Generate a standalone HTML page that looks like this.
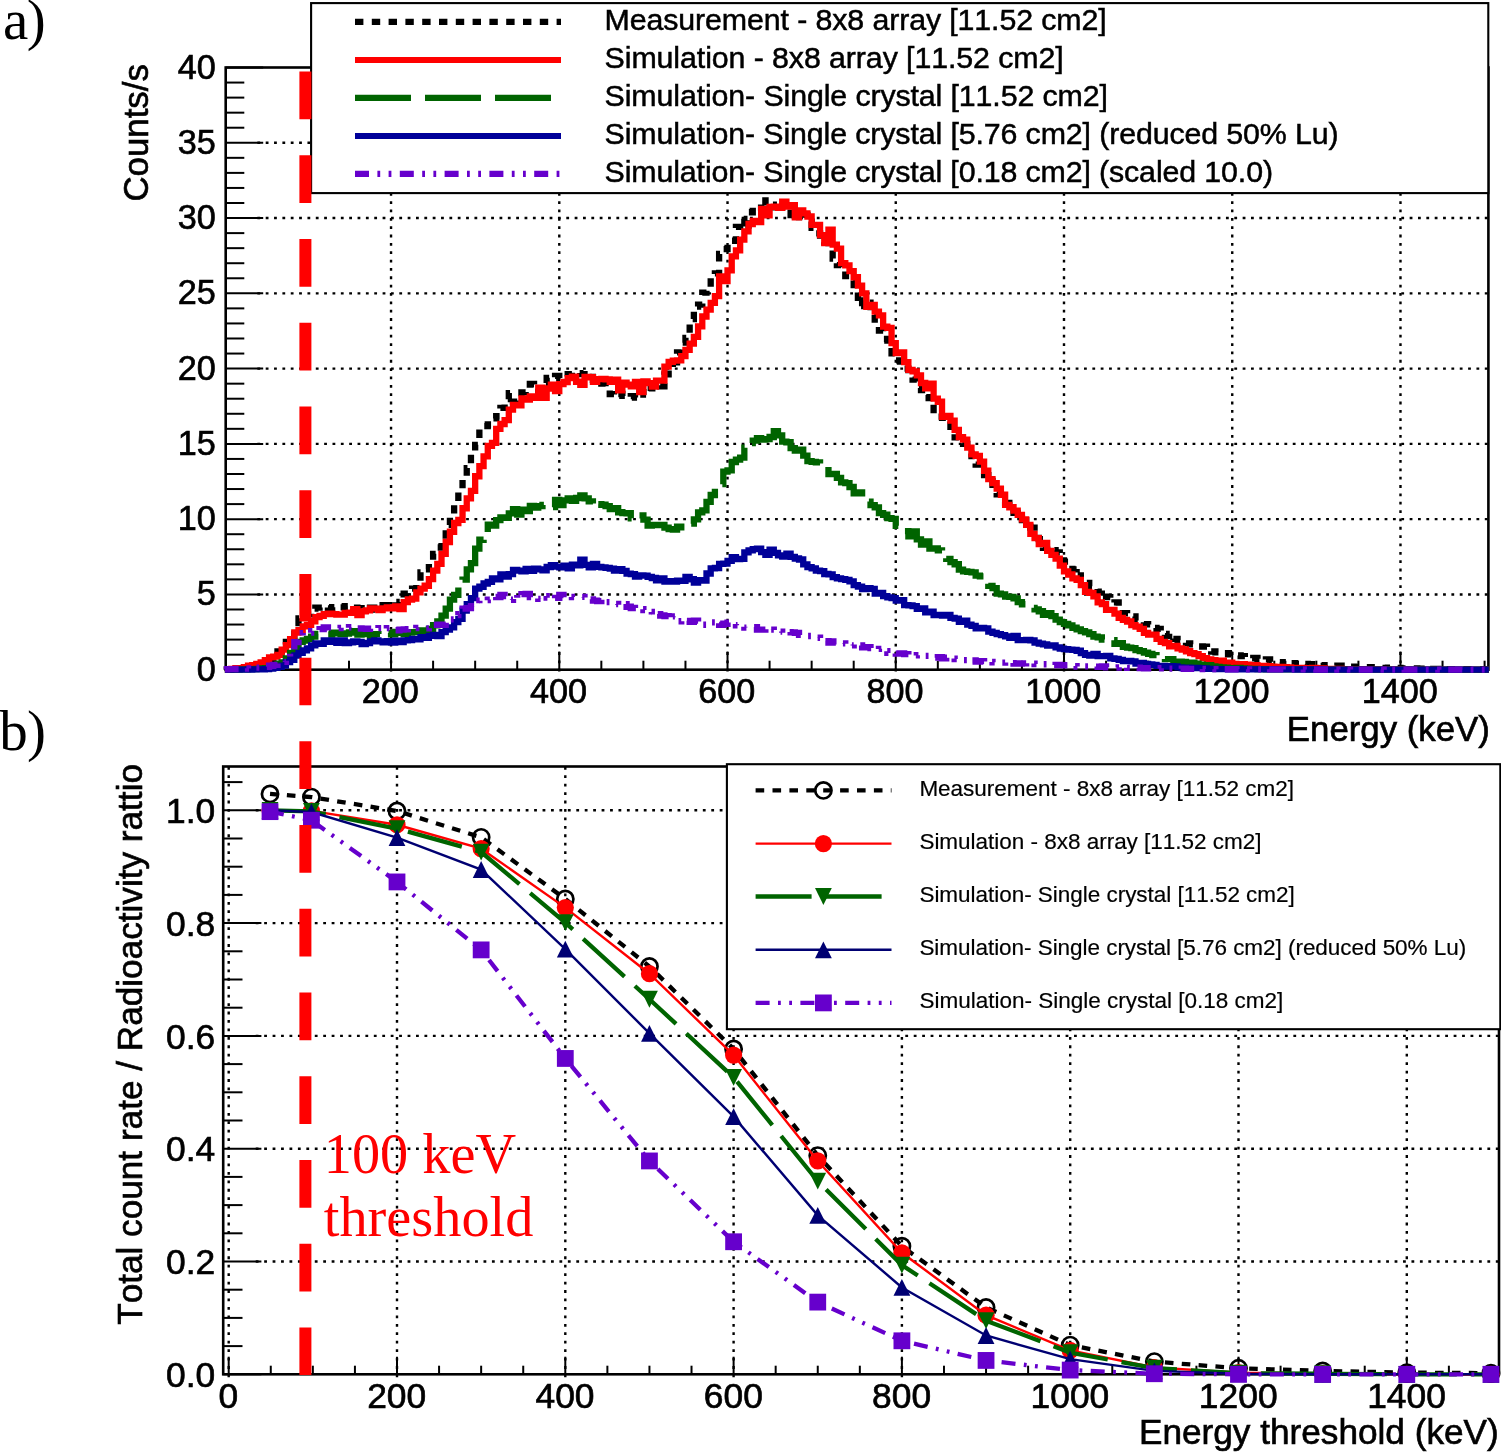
<!DOCTYPE html>
<html lang="en"><head><meta charset="utf-8"><title>Energy spectra and count rate vs threshold</title>
<style>html,body{margin:0;padding:0;background:#fff}body{width:1501px;height:1454px;overflow:hidden}svg{display:block}text{font-family:'Liberation Sans', sans-serif;fill:#000;stroke:#000;stroke-width:0.65px;font-kerning:none}.serif{font-family:'Liberation Serif', serif}</style>
</head><body>
<svg width="1501" height="1454" viewBox="0 0 1501 1454">
<rect x="0" y="0" width="1501" height="1454" fill="#fff"/>
<g id="plot-a">
<g stroke="#000" stroke-width="2.4" stroke-dasharray="2.8 5.55" fill="none">
<path d="M391.04 671.6V67.5"/>
<path d="M559.28 671.6V67.5"/>
<path d="M727.52 671.6V67.5"/>
<path d="M895.76 671.6V67.5"/>
<path d="M1064 671.6V67.5"/>
<path d="M1232.24 671.6V67.5"/>
<path d="M1400.48 671.6V67.5"/>
<path d="M257.35 594.43H1488.4"/>
<path d="M257.35 519.15H1488.4"/>
<path d="M257.35 443.88H1488.4"/>
<path d="M257.35 368.6H1488.4"/>
<path d="M257.35 293.33H1488.4"/>
<path d="M257.35 218.05H1488.4"/>
<path d="M257.35 142.78H1488.4"/>
</g>
<g stroke="#000" stroke-width="2" fill="none">
<path d="M225.7 669.7h37.5"/>
<path d="M225.7 654.65h18.6"/>
<path d="M225.7 639.59h18.6"/>
<path d="M225.7 624.54h18.6"/>
<path d="M225.7 609.48h18.6"/>
<path d="M225.7 594.43h37.5"/>
<path d="M225.7 579.37h18.6"/>
<path d="M225.7 564.32h18.6"/>
<path d="M225.7 549.26h18.6"/>
<path d="M225.7 534.21h18.6"/>
<path d="M225.7 519.15h37.5"/>
<path d="M225.7 504.1h18.6"/>
<path d="M225.7 489.04h18.6"/>
<path d="M225.7 473.99h18.6"/>
<path d="M225.7 458.93h18.6"/>
<path d="M225.7 443.88h37.5"/>
<path d="M225.7 428.82h18.6"/>
<path d="M225.7 413.77h18.6"/>
<path d="M225.7 398.71h18.6"/>
<path d="M225.7 383.66h18.6"/>
<path d="M225.7 368.6h37.5"/>
<path d="M225.7 353.55h18.6"/>
<path d="M225.7 338.49h18.6"/>
<path d="M225.7 323.44h18.6"/>
<path d="M225.7 308.38h18.6"/>
<path d="M225.7 293.33h37.5"/>
<path d="M225.7 278.27h18.6"/>
<path d="M225.7 263.22h18.6"/>
<path d="M225.7 248.16h18.6"/>
<path d="M225.7 233.11h18.6"/>
<path d="M225.7 218.05h37.5"/>
<path d="M225.7 203h18.6"/>
<path d="M225.7 187.94h18.6"/>
<path d="M225.7 172.89h18.6"/>
<path d="M225.7 157.83h18.6"/>
<path d="M225.7 142.78h37.5"/>
<path d="M225.7 127.72h18.6"/>
<path d="M225.7 112.67h18.6"/>
<path d="M225.7 97.61h18.6"/>
<path d="M225.7 82.56h18.6"/>
<path d="M225.7 67.5h37.5"/>
<path d="M264.86 669.7v-9"/>
<path d="M306.92 669.7v-9"/>
<path d="M348.98 669.7v-9"/>
<path d="M391.04 669.7v-18.2"/>
<path d="M433.1 669.7v-9"/>
<path d="M475.16 669.7v-9"/>
<path d="M517.22 669.7v-9"/>
<path d="M559.28 669.7v-18.2"/>
<path d="M601.34 669.7v-9"/>
<path d="M643.4 669.7v-9"/>
<path d="M685.46 669.7v-9"/>
<path d="M727.52 669.7v-18.2"/>
<path d="M769.58 669.7v-9"/>
<path d="M811.64 669.7v-9"/>
<path d="M853.7 669.7v-9"/>
<path d="M895.76 669.7v-18.2"/>
<path d="M937.82 669.7v-9"/>
<path d="M979.88 669.7v-9"/>
<path d="M1021.94 669.7v-9"/>
<path d="M1064 669.7v-18.2"/>
<path d="M1106.06 669.7v-9"/>
<path d="M1148.12 669.7v-9"/>
<path d="M1190.18 669.7v-9"/>
<path d="M1232.24 669.7v-18.2"/>
<path d="M1274.3 669.7v-9"/>
<path d="M1316.36 669.7v-9"/>
<path d="M1358.42 669.7v-9"/>
<path d="M1400.48 669.7v-18.2"/>
<path d="M1442.54 669.7v-9"/>
<path d="M1484.6 669.7v-9"/>
</g>
<rect x="225.7" y="67.5" width="1262.7" height="602.2" fill="none" stroke="#000" stroke-width="2.6"/>
<g fill="none" stroke-width="6.3" stroke-linejoin="miter">
<path stroke="#000000" stroke-dasharray="8.4 8.4" d="M224.9 669.68H227.01V669.52H231.21V669.22H235.42V668.81H239.62V668.11H243.83V668.37H248.04V666.54H252.24V666.41H256.45V664.68H260.65V663.3H264.86V660.38H269.07V660.23H273.27V656.23H277.48V651.43H281.68V644.4H285.89V641.93H290.1V636.73H294.3V626.62H298.51V618.37H302.71V614.43H306.92V614.33H311.13V608.7H315.33V607.59H319.54V607.54H323.74V606.39H327.95V608.39H332.16V607.25H336.36V608.37H340.57V607.34H344.77V606.16H348.98V608.1H353.19V607.73H357.39V608.27H361.6V608.64H365.8V608.57H370.01V607.77H374.22V609.62H378.42V607.61H382.63V605.09H386.83V605.66H391.04V605.93H395.25V605.39H399.45V601.93H403.66V593.74H407.86V592.19H412.07V588.66H416.28V581.88H420.48V572.37H424.69V569.3H428.89V560.89H433.1V553.87H437.31V547.5H441.51V540.18H445.72V524.89H449.92V514.03H454.13V502.5H458.34V490.07H462.54V477.69H466.75V468.08H470.95V454.07H475.16V444.86H479.37V429.02H483.57V426.08H487.78V424.48H491.98V418.45H496.19V416.23H500.4V407.79H504.6V399.17H508.81V393.08H513.01V401.55H517.22V398.44H521.43V392.28H525.63V387.87H529.84V384.02H534.04V384.44H538.25V390.36H542.46V382.92H546.66V377.81H550.87V378.72H555.07V375.94H559.28V377.94H563.49V376.44H567.69V374.15H571.9V372.6H576.1V373.09H580.31V374.16H584.52V378.38H588.72V376.88H592.93V379.93H597.13V379.95H601.34V383.57H605.55V390.28H609.75V394.18H613.96V396.31H618.16V393.99H622.37V395.88H626.58V397.55H630.78V396.08H634.99V397.5H639.19V392.22H643.4V394.71H647.61V387.84H651.81V388.4H656.02V384.95H660.22V386.26H664.43V374.34H668.64V363.85H672.84V362.25H677.05V352.28H681.25V342.64H685.46V337.78H689.67V319.04H693.87V306.56H698.08V304.68H702.28V292.62H706.49V290.82H710.7V276.7H714.9V273.31H719.11V253.97H723.31V249.2H727.52V243.99H731.73V240.75H735.93V226.82H740.14V218.83H744.34V229.73H748.55V212.23H752.76V206.01H756.96V207.55H761.17V211.23H765.37V200.49H769.58V204.65H773.79V207.36H777.99V211.28H782.2V205.76H786.4V207.16H790.61V215.19H794.82V212.14H799.02V220.73H803.23V214.92H807.43V221.62H811.64V227.73H815.85V233.4H820.05V235.64H824.26V242.4H828.46V250.12H832.67V258.52H836.88V265.12H841.08V268.87H845.29V276.1H849.49V280.41H853.7V290.93H857.91V306.17H862.11V300.35H866.32V302.6H870.52V315.03H874.73V323.27H878.94V330.7H883.14V338.89H887.35V346.28H891.55V356.73H895.76V360.36H899.97V367.37H904.17V368.61H908.38V376.25H912.58V379.65H916.79V387.88H921V390.02H925.2V398.08H929.41V397.09H933.61V415.15H937.82V416.63H942.03V417.76H946.23V418.89H950.44V432.93H954.64V437.37H958.85V443.29H963.06V443.84H967.26V453.62H971.47V456.16H975.67V464.55H979.88V473.15H984.09V475.08H988.29V480.9H992.5V484.96H996.7V494.29H1000.91V500.79H1005.12V502.79H1009.32V508.38H1013.53V512.95H1017.73V518.4H1021.94V520.1H1026.15V526.59H1030.35V527.64H1034.56V533.88H1038.76V539.06H1042.97V547.88H1047.18V546.52H1051.38V550.14H1055.59V552.48H1059.79V555.23H1064V561.62H1068.21V562.86H1072.41V569.45H1076.62V568.5H1080.82V578.57H1085.03V582.97H1089.24V586.17H1093.44V588.11H1097.65V591.77H1101.85V589.84H1106.06V597.12H1110.27V602.42H1114.47V602.32H1118.68V608.77H1122.88V613.27H1127.09V613.33H1131.3V616.43H1135.5V620.38H1139.71V620.2H1143.91V624.12H1148.12V624.39H1152.33V627.99H1156.53V628.83H1160.74V632.63H1164.94V636.11H1169.15V633.82H1173.36V638.89H1177.56V640.18H1181.77V642.29H1185.97V643.29H1190.18V644.27H1194.39V645.64H1198.59V646.49H1202.8V646.69H1207V649.52H1211.21V651.49H1215.42V652.35H1219.62V652.74H1223.83V654.29H1228.03V653.07H1232.24V654.85H1236.45V655.5H1240.65V656.09H1244.86V657.88H1249.06V658.28H1253.27V658.01H1257.48V658.75H1261.68V660.06H1265.89V659.35H1270.09V661.75H1274.3V661.73H1278.51V662.14H1282.71V663.92H1286.92V661.89H1291.12V663.07H1295.33V664.09H1299.54V662.95H1303.74V663.93H1307.95V664.27H1312.15V664.98H1316.36V664.91H1320.57V665.82H1324.77V665.09H1328.98V665.78H1333.18V665.8H1337.39V665.62H1341.6V666.17H1345.8V666.39H1350.01V666.59H1354.21V667.11H1358.42V666.78H1362.63V666.74H1366.83V667.14H1371.04V667.26H1375.24V667.9H1379.45V668.02H1383.66V668.28H1387.86V667.72H1392.07V668.2H1396.27V667.91H1400.48V668.51H1404.69V668.51H1408.89V668.48H1413.1V668.4H1417.3V668.65H1421.51V668.7H1425.72V668.81H1429.92V668.87H1434.13V668.92H1438.33V668.97H1442.54V669.01H1446.75V669.05H1450.95V669.09H1455.16V669.13H1459.36V669.16H1463.57V669.19H1467.78V669.22H1471.98V669.24H1476.19V669.26H1480.39V669.27H1484.6V669.28H1488.81"/>
<path stroke="#ff0000" d="M224.9 669.65H227.01V669.39H231.21V668.98H235.42V668.15H239.62V668.3H243.83V667.27H248.04V665.77H252.24V665.18H256.45V663.81H260.65V662.39H264.86V660.17H269.07V657.44H273.27V656.69H277.48V654.95H281.68V649.72H285.89V645.07H290.1V639.21H294.3V632.5H298.51V630.22H302.71V626.37H306.92V624.87H311.13V621.25H315.33V617.21H319.54V615.92H323.74V614.2H327.95V613.74H332.16V614.05H336.36V614.57H340.57V614.66H344.77V612.79H348.98V612.76H353.19V609.24H357.39V615.15H361.6V611.34H365.8V610.35H370.01V608.28H374.22V608.72H378.42V609.98H382.63V608.44H386.83V607.4H391.04V608.25H395.25V606.31H399.45V609.2H403.66V602.17H407.86V599.51H412.07V598.57H416.28V592.36H420.48V588.7H424.69V585.75H428.89V579.16H433.1V570.53H437.31V563.79H441.51V553.82H445.72V541.99H449.92V531.73H454.13V522.98H458.34V519.83H462.54V508.24H466.75V498.36H470.95V490.86H475.16V476.27H479.37V466.14H483.57V456.35H487.78V445.78H491.98V442.96H496.19V428.91H500.4V424.02H504.6V420.19H508.81V409.67H513.01V404.94H517.22V405.4H521.43V398.31H525.63V399.67H529.84V396.51H534.04V397.77H538.25V387.62H542.46V397.79H546.66V388.48H550.87V384.54H555.07V391.07H559.28V384.1H563.49V382.02H567.69V378.09H571.9V376.66H576.1V381.75H580.31V384.89H584.52V376.88H588.72V377.23H592.93V381.84H597.13V379.08H601.34V378.99H605.55V379.29H609.75V381.75H613.96V379.75H618.16V390.29H622.37V382.69H626.58V384.6H630.78V386.23H634.99V381.92H639.19V391.99H643.4V381.32H647.61V383.07H651.81V386.61H656.02V380.6H660.22V380.72H664.43V366.66H668.64V361.86H672.84V360.64H677.05V360.4H681.25V356.05H685.46V349.8H689.67V343.6H693.87V336.86H698.08V326.47H702.28V316.48H706.49V309.53H710.7V302.84H714.9V296.22H719.11V276.28H723.31V281.12H727.52V270.29H731.73V256.32H735.93V250.45H740.14V239.63H744.34V231.35H748.55V223.98H752.76V220.78H756.96V222.04H761.17V208.93H765.37V215.46H769.58V206.95H773.79V206.68H777.99V207.75H782.2V201.69H786.4V206.71H790.61V205.24H794.82V217.35H799.02V210.49H803.23V213.34H807.43V216.52H811.64V224.86H815.85V224.82H820.05V235.09H824.26V243.09H828.46V229.69H832.67V244.59H836.88V248.59H841.08V263.2H845.29V265.37H849.49V271.12H853.7V277.27H857.91V285.59H862.11V293.42H866.32V306.91H870.52V304.84H874.73V311.65H878.94V315.42H883.14V326.53H887.35V327.89H891.55V343.15H895.76V353.01H899.97V352.31H904.17V362.21H908.38V369.96H912.58V371.35H916.79V375.4H921V382.99H925.2V388.24H929.41V383.59H933.61V398.54H937.82V401.74H942.03V416.91H946.23V415.9H950.44V420.7H954.64V429.81H958.85V437.13H963.06V439.71H967.26V447.57H971.47V454.31H975.67V455.96H979.88V461.72H984.09V470.74H988.29V479.1H992.5V483.19H996.7V488.61H1000.91V494.77H1005.12V504.78H1009.32V507.27H1013.53V510.62H1017.73V514.96H1021.94V519.28H1026.15V524.85H1030.35V533.88H1034.56V538.06H1038.76V544.04H1042.97V542.99H1047.18V550.89H1051.38V554.88H1055.59V558.61H1059.79V565.58H1064V571.42H1068.21V574.52H1072.41V578.38H1076.62V579.91H1080.82V585.04H1085.03V591.97H1089.24V592.93H1093.44V596.35H1097.65V602.34H1101.85V604.22H1106.06V609.79H1110.27V609.87H1114.47V613.72H1118.68V617.93H1122.88V619.9H1127.09V621.48H1131.3V625.09H1135.5V626.7H1139.71V628.96H1143.91V632.93H1148.12V634.71H1152.33V634.54H1156.53V638.82H1160.74V641.9H1164.94V643.12H1169.15V646.28H1173.36V646.01H1177.56V648.4H1181.77V649.52H1185.97V651.27H1190.18V653.15H1194.39V654.21H1198.59V656.18H1202.8V658.07H1207V659.5H1211.21V660.19H1215.42V662.09H1219.62V660.59H1223.83V662.96H1228.03V662.74H1232.24V663.81H1236.45V664.58H1240.65V664.2H1244.86V664.71H1249.06V665.04H1253.27V665.12H1257.48V665.86H1261.68V665.81H1265.89V666.06H1270.09V666.61H1274.3V666.86H1278.51V666.87H1282.71V667.24H1286.92V667.42H1291.12V668.25H1295.33V667.81H1299.54V667.88H1303.74V668.13H1307.95V668.16H1312.15V667.98H1316.36V668.47H1320.57V668.48H1324.77V668.86H1328.98V668.82H1333.18V668.91H1337.39V669H1341.6V669.07H1345.8V669.14H1350.01V669.19H1354.21V669.23H1358.42V669.26H1362.63V669.29H1366.83V669.32H1371.04V669.34H1375.24V669.37H1379.45V669.39H1383.66V669.42H1387.86V669.44H1392.07V669.46H1396.27V669.48H1400.48V669.5H1404.69V669.52H1408.89V669.54H1413.1V669.56H1417.3V669.57H1421.51V669.59H1425.72V669.6H1429.92V669.62H1434.13V669.63H1438.33V669.64H1442.54V669.65H1446.75V669.66H1450.95V669.67H1455.16V669.68H1459.36V669.68H1463.57V669.69H1467.78V669.69H1471.98V669.7H1476.19V669.7H1480.39V669.7H1484.6V669.7H1488.81"/>
<path stroke="#006400" stroke-dasharray="129.25 12 65.32 12 126.07 12 61.18 12 103.7 12 75.15 12 49.33 12 64.95 12 58.62 12 58.82 12 116.65 12 65.87 12 53.67 12 73.65 12 55.39 12 57.78 12 105.57 12 58.75 12 387.21 0" d="M224.9 669.7H227.01V669.67H231.21V669.62H235.42V669.55H239.62V669.45H243.83V669.33H248.04V669.19H252.24V669.03H256.45V668.83H260.65V668.51H264.86V668.09H269.07V666.64H273.27V665.48H277.48V663.75H281.68V662.43H285.89V658.29H290.1V652.86H294.3V648.7H298.51V641.81H302.71V640.51H306.92V638.95H311.13V636.72H315.33V633.88H319.54V634.47H323.74V635.25H327.95V634.5H332.16V632.77H336.36V633.45H340.57V634.08H344.77V633.51H348.98V632.48H353.19V631.18H357.39V634.58H361.6V633.92H365.8V634.07H370.01V635.73H374.22V634.08H378.42V634.11H382.63V631.75H386.83V632.98H391.04V634.46H395.25V631.9H399.45V632.79H403.66V634.05H407.86V632.56H412.07V632.19H416.28V632.02H420.48V630.46H424.69V632.24H428.89V628.95H433.1V625.27H437.31V621.28H441.51V615.71H445.72V608.64H449.92V599.65H454.13V594.91H458.34V583.19H462.54V579.57H466.75V569.39H470.95V563.15H475.16V548.59H479.37V539.75H483.57V534.98H487.78V524.58H491.98V525.48H496.19V520.2H500.4V517.34H504.6V517.91H508.81V513.31H513.01V509.03H517.22V514.7H521.43V509.73H525.63V511.2H529.84V505.93H534.04V507.64H538.25V506.03H542.46V504.9H546.66V504.59H550.87V507.16H555.07V499.84H559.28V505.1H563.49V500.39H567.69V498.47H571.9V500.86H576.1V497.98H580.31V495.4H584.52V498.47H588.72V501.34H592.93V507.18H597.13V504.2H601.34V504.77H605.55V506.16H609.75V509.02H613.96V508.1H618.16V512.27H622.37V513.19H626.58V513.27H630.78V518.37H634.99V518.91H639.19V515.3H643.4V519.59H647.61V525.72H651.81V524.81H656.02V525.03H660.22V524.84H664.43V527.7H668.64V529.14H672.84V529.55H677.05V526.69H681.25V527.38H685.46V528.14H689.67V523.69H693.87V519.4H698.08V512.37H702.28V510.3H706.49V501.97H710.7V495H714.9V488.72H719.11V484.2H723.31V471.68H727.52V470.44H731.73V461.99H735.93V459.72H740.14V457.53H744.34V447.67H748.55V442.98H752.76V440.66H756.96V438.25H761.17V439.64H765.37V439.05H769.58V436.99H773.79V431.26H777.99V435.29H782.2V441.63H786.4V442.25H790.61V448.13H794.82V450.6H799.02V449.64H803.23V455.65H807.43V461.11H811.64V461.84H815.85V462.31H820.05V465.44H824.26V466.04H828.46V474.22H832.67V473.91H836.88V477.8H841.08V482.28H845.29V483.04H849.49V487.02H853.7V493.43H857.91V492.33H862.11V501.06H866.32V501.59H870.52V505.07H874.73V507.38H878.94V513.11H883.14V514.75H887.35V518.12H891.55V518.85H895.76V525.87H899.97V527.3H904.17V531.21H908.38V536.41H912.58V531.28H916.79V539.45H921V544.7H925.2V541.39H929.41V548.64H933.61V548.44H937.82V550.36H942.03V556.23H946.23V558.91H950.44V562.14H954.64V564.27H958.85V569.57H963.06V571.37H967.26V571.9H971.47V572.33H975.67V575.58H979.88V576.46H984.09V581.03H988.29V585.86H992.5V588.06H996.7V593.69H1000.91V594.42H1005.12V596.71H1009.32V596.87H1013.53V598.36H1017.73V602.15H1021.94V604.26H1026.15V607.7H1030.35V607.83H1034.56V609.42H1038.76V611.24H1042.97V614.86H1047.18V613.23H1051.38V616.17H1055.59V619.67H1059.79V622.1H1064V623.81H1068.21V625.37H1072.41V627.77H1076.62V629.4H1080.82V631.14H1085.03V632.3H1089.24V634.06H1093.44V636.69H1097.65V637.47H1101.85V639.5H1106.06V641.04H1110.27V640.19H1114.47V643.89H1118.68V643.27H1122.88V646.77H1127.09V647.64H1131.3V648.22H1135.5V650.21H1139.71V651.04H1143.91V652.63H1148.12V653.95H1152.33V655.03H1156.53V656.77H1160.74V656.8H1164.94V659.18H1169.15V659.2H1173.36V662.29H1177.56V661.54H1181.77V661.84H1185.97V662.8H1190.18V662.75H1194.39V663.63H1198.59V664.73H1202.8V665.19H1207V665.07H1211.21V666.48H1215.42V666.88H1219.62V667.46H1223.83V667.64H1228.03V668.26H1232.24V668.26H1236.45V667.93H1240.65V668.37H1244.86V668.59H1249.06V668.83H1253.27V668.95H1257.48V669.06H1261.68V669.16H1265.89V669.24H1270.09V669.3H1274.3V669.36H1278.51V669.39H1282.71V669.41H1286.92V669.42H1291.12V669.43H1295.33V669.45H1299.54V669.46H1303.74V669.47H1307.95V669.48H1312.15V669.5H1316.36V669.51H1320.57V669.52H1324.77V669.53H1328.98V669.54H1333.18V669.55H1337.39V669.56H1341.6V669.57H1345.8V669.58H1350.01V669.58H1354.21V669.59H1358.42V669.6H1362.63V669.61H1366.83V669.61H1371.04V669.62H1375.24V669.63H1379.45V669.63H1383.66V669.64H1387.86V669.64H1392.07V669.65H1396.27V669.65H1400.48V669.66H1404.69V669.66H1408.89V669.67H1413.1V669.67H1417.3V669.68H1421.51V669.68H1425.72V669.68H1429.92V669.68H1434.13V669.69H1438.33V669.69H1442.54V669.69H1446.75V669.69H1450.95V669.69H1455.16V669.7H1459.36V669.7H1463.57V669.7H1467.78V669.7H1471.98V669.7H1476.19V669.7H1480.39V669.7H1484.6V669.7H1488.81"/>
<path stroke="#000099" d="M224.9 669.7H227.01V669.69H231.21V669.68H235.42V669.65H239.62V669.62H243.83V669.57H248.04V669.52H252.24V669.46H256.45V669.38H260.65V669.3H264.86V669.15H269.07V668.71H273.27V667.83H277.48V666.85H281.68V665.6H285.89V662.22H290.1V659.88H294.3V655.48H298.51V652.91H302.71V650.33H306.92V648.43H311.13V645.33H315.33V643.35H319.54V643.84H323.74V640.35H327.95V641.75H332.16V640.38H336.36V642.88H340.57V640.34H344.77V643.1H348.98V642.45H353.19V641.35H357.39V641.8H361.6V644.06H365.8V643.02H370.01V641.38H374.22V640.35H378.42V641.46H382.63V642.44H386.83V641.18H391.04V642.62H395.25V640.7H399.45V642.07H403.66V640.44H407.86V640.15H412.07V638.78H416.28V639.31H420.48V637.22H424.69V637.86H428.89V635.95H433.1V634.91H437.31V636.22H441.51V632.21H445.72V629.54H449.92V627.35H454.13V622.05H458.34V618.96H462.54V610.64H466.75V604.13H470.95V598.19H475.16V588.67H479.37V586.74H483.57V583.49H487.78V581.91H491.98V578.41H496.19V579.34H500.4V574.45H504.6V576.56H508.81V574.11H513.01V570H517.22V570.57H521.43V571.47H525.63V568.91H529.84V570.83H534.04V568.76H538.25V569.43H542.46V570.24H546.66V566.98H550.87V565.17H555.07V566.6H559.28V567.27H563.49V565.63H567.69V568.35H571.9V564.68H576.1V565.24H580.31V559.69H584.52V564.81H588.72V567.33H592.93V563.98H597.13V566.84H601.34V567.36H605.55V567.93H609.75V568.72H613.96V570.6H618.16V569.17H622.37V570.84H626.58V573.59H630.78V574.09H634.99V576.49H639.19V575.47H643.4V575.7H647.61V576.85H651.81V578.02H656.02V580.3H660.22V578.31H664.43V581.65H668.64V581.23H672.84V581.64H677.05V580.68H681.25V580.89H685.46V576.84H689.67V579.27H693.87V582.56H698.08V580.21H702.28V580.66H706.49V573.48H710.7V568.43H714.9V567.99H719.11V563.88H723.31V563.6H727.52V560.94H731.73V557.03H735.93V559.21H740.14V558.78H744.34V552.39H748.55V550.37H752.76V549.18H756.96V548.61H761.17V552.09H765.37V554.86H769.58V549.54H773.79V552.92H777.99V555.4H782.2V556.53H786.4V553.55H790.61V556.84H794.82V558.48H799.02V559.52H803.23V564.33H807.43V567.04H811.64V568.4H815.85V570.69H820.05V571.12H824.26V574.02H828.46V574.3H832.67V577.13H836.88V578.44H841.08V579.18H845.29V579.83H849.49V581.31H853.7V585.22H857.91V586.55H862.11V589.12H866.32V588.18H870.52V588.83H874.73V593.57H878.94V592.95H883.14V596.06H887.35V597.28H891.55V598.21H895.76V600.55H899.97V600.16H904.17V605.07H908.38V605.4H912.58V606.06H916.79V608.8H921V608.32H925.2V612.3H929.41V611.65H933.61V615.08H937.82V614.87H942.03V615.56H946.23V614.96H950.44V617.88H954.64V618.66H958.85V621.87H963.06V620.68H967.26V624.69H971.47V625.91H975.67V628.33H979.88V627.94H984.09V628.43H988.29V631.7H992.5V632.78H996.7V634.13H1000.91V635.08H1005.12V636.28H1009.32V637.89H1013.53V636H1017.73V640.16H1021.94V640.06H1026.15V639.88H1030.35V640.35H1034.56V642.57H1038.76V643.68H1042.97V644.34H1047.18V645.49H1051.38V645.35H1055.59V647.31H1059.79V648.56H1064V649.04H1068.21V649.62H1072.41V649.87H1076.62V650.73H1080.82V653.22H1085.03V654.84H1089.24V655.49H1093.44V653.79H1097.65V656.07H1101.85V656.14H1106.06V655.94H1110.27V658.33H1114.47V658.89H1118.68V659.97H1122.88V661.07H1127.09V660.85H1131.3V661.43H1135.5V663.48H1139.71V662.8H1143.91V663.93H1148.12V664.3H1152.33V664.82H1156.53V665.86H1160.74V665.95H1164.94V666.59H1169.15V666.07H1173.36V666.39H1177.56V667.34H1181.77V667.98H1185.97V667.7H1190.18V668.22H1194.39V667.99H1198.59V668.13H1202.8V668.36H1207V668.8H1211.21V668.93H1215.42V669.03H1219.62V669.12H1223.83V669.19H1228.03V669.24H1232.24V669.26H1236.45V669.27H1240.65V669.29H1244.86V669.31H1249.06V669.32H1253.27V669.34H1257.48V669.36H1261.68V669.37H1265.89V669.39H1270.09V669.4H1274.3V669.41H1278.51V669.43H1282.71V669.44H1286.92V669.45H1291.12V669.46H1295.33V669.48H1299.54V669.49H1303.74V669.5H1307.95V669.51H1312.15V669.52H1316.36V669.53H1320.57V669.54H1324.77V669.55H1328.98V669.56H1333.18V669.57H1337.39V669.57H1341.6V669.58H1345.8V669.59H1350.01V669.6H1354.21V669.61H1358.42V669.61H1362.63V669.62H1366.83V669.62H1371.04V669.63H1375.24V669.64H1379.45V669.64H1383.66V669.65H1387.86V669.65H1392.07V669.66H1396.27V669.66H1400.48V669.66H1404.69V669.67H1408.89V669.67H1413.1V669.68H1417.3V669.68H1421.51V669.68H1425.72V669.68H1429.92V669.69H1434.13V669.69H1438.33V669.69H1442.54V669.69H1446.75V669.69H1450.95V669.7H1455.16V669.7H1459.36V669.7H1463.57V669.7H1467.78V669.7H1471.98V669.7H1476.19V669.7H1480.39V669.7H1484.6V669.7H1488.81"/>
<path stroke="#6600cc" stroke-dasharray="14 8.4 2.8 8.4 2.8 8.4" d="M224.9 669.24H227.01V669.19H231.21V669.09H235.42V668.95H239.62V668.77H243.83V668.34H248.04V668.54H252.24V668.18H256.45V667.59H260.65V667.18H264.86V666.78H269.07V665.76H273.27V664.79H277.48V662.96H281.68V661.93H285.89V658.16H290.1V650.08H294.3V642.07H298.51V638.55H302.71V633.05H306.92V632.65H311.13V631.09H315.33V630.12H319.54V629.17H323.74V627.41H327.95V627.42H332.16V627.88H336.36V628.22H340.57V627.86H344.77V628.03H348.98V627.23H353.19V628.78H357.39V628.29H361.6V628.56H365.8V628.75H370.01V628.71H374.22V629H378.42V628.05H382.63V629.59H386.83V628.1H391.04V630.04H395.25V630.26H399.45V629.69H403.66V629.34H407.86V629.25H412.07V628H416.28V627.86H420.48V628.13H424.69V628.34H428.89V627.27H433.1V624.7H437.31V624.76H441.51V624.75H445.72V621.93H449.92V619.43H454.13V615.12H458.34V614.04H462.54V608.71H466.75V608.06H470.95V606.21H475.16V604.68H479.37V600.66H483.57V600.21H487.78V599.58H491.98V596.97H496.19V597.03H500.4V594.92H504.6V596.21H508.81V599.75H513.01V594.9H517.22V598.54H521.43V594.14H525.63V593.95H529.84V597.14H534.04V598.34H538.25V598.87H542.46V596.07H546.66V597.66H550.87V598.31H555.07V597.96H559.28V594.98H563.49V597.37H567.69V596.94H571.9V597.02H576.1V596.84H580.31V596.97H584.52V599.57H588.72V599.33H592.93V600.56H597.13V601.1H601.34V599.39H605.55V602.22H609.75V602.43H613.96V603.98H618.16V604.77H622.37V604.09H626.58V606.77H630.78V608.01H634.99V608.05H639.19V609.26H643.4V610.08H647.61V611.99H651.81V615.5H656.02V614.04H660.22V615.48H664.43V616.12H668.64V619.28H672.84V616.46H677.05V621.24H681.25V619.62H685.46V620.8H689.67V621.76H693.87V620.7H698.08V622.23H702.28V624.73H706.49V623.76H710.7V622.3H714.9V620.69H719.11V624.94H723.31V623.75H727.52V622.57H731.73V623.84H735.93V625.26H740.14V626.77H744.34V627.57H748.55V626.98H752.76V627.1H756.96V629.54H761.17V629.54H765.37V628.18H769.58V629.68H773.79V630.92H777.99V631.53H782.2V632.85H786.4V632.07H790.61V632.29H794.82V632.79H799.02V634.93H803.23V635.78H807.43V636.02H811.64V636.65H815.85V637.74H820.05V638.77H824.26V641.11H828.46V642.63H832.67V641.28H836.88V642.71H841.08V643.29H845.29V644.55H849.49V645.47H853.7V644.01H857.91V645.42H862.11V647.3H866.32V647.07H870.52V648.09H874.73V648.94H878.94V648.78H883.14V651.27H887.35V652.91H891.55V652.72H895.76V653.71H899.97V653.47H904.17V654.14H908.38V654.49H912.58V655.43H916.79V655.24H921V656.15H925.2V655.94H929.41V656.8H933.61V657.65H937.82V657.2H942.03V658.3H946.23V657.63H950.44V658.62H954.64V659.07H958.85V659.69H963.06V660.19H967.26V661.68H971.47V660.35H975.67V661.59H979.88V661.06H984.09V662.01H988.29V662.01H992.5V662.25H996.7V662.78H1000.91V662.6H1005.12V662.52H1009.32V663.06H1013.53V663.59H1017.73V663.5H1021.94V663.38H1026.15V663.25H1030.35V663.59H1034.56V664.02H1038.76V664.7H1042.97V664.23H1047.18V664.76H1051.38V665.05H1055.59V664.87H1059.79V665.16H1064V665.38H1068.21V666.07H1072.41V666.06H1076.62V666.54H1080.82V666.14H1085.03V666.34H1089.24V666.24H1093.44V666.58H1097.65V666.88H1101.85V666.38H1106.06V667.32H1110.27V667.52H1114.47V667.48H1118.68V667.35H1122.88V667.68H1127.09V667.82H1131.3V668.09H1135.5V667.66H1139.71V668.19H1143.91V668.36H1148.12V668.26H1152.33V668.46H1156.53V668.42H1160.74V668.22H1164.94V668.6H1169.15V668.6H1173.36V668.72H1177.56V668.76H1181.77V668.67H1185.97V668.85H1190.18V668.9H1194.39V668.96H1198.59V669.01H1202.8V669.05H1207V669.09H1211.21V669.13H1215.42V669.17H1219.62V669.2H1223.83V669.22H1228.03V669.24H1232.24V669.26H1236.45V669.27H1240.65V669.29H1244.86V669.3H1249.06V669.31H1253.27V669.33H1257.48V669.34H1261.68V669.35H1265.89V669.37H1270.09V669.38H1274.3V669.39H1278.51V669.4H1282.71V669.42H1286.92V669.43H1291.12V669.44H1295.33V669.45H1299.54V669.46H1303.74V669.47H1307.95V669.48H1312.15V669.49H1316.36V669.5H1320.57V669.51H1324.77V669.52H1328.98V669.53H1333.18V669.54H1337.39V669.55H1341.6V669.56H1345.8V669.57H1350.01V669.58H1354.21V669.58H1358.42V669.59H1362.63V669.6H1366.83V669.61H1371.04V669.61H1375.24V669.62H1379.45V669.62H1383.66V669.63H1387.86V669.64H1392.07V669.64H1396.27V669.65H1400.48V669.65H1404.69V669.66H1408.89V669.66H1413.1V669.67H1417.3V669.67H1421.51V669.67H1425.72V669.68H1429.92V669.68H1434.13V669.68H1438.33V669.69H1442.54V669.69H1446.75V669.69H1450.95V669.69H1455.16V669.69H1459.36V669.7H1463.57V669.7H1467.78V669.7H1471.98V669.7H1476.19V669.7H1480.39V669.7H1484.6V669.7H1488.81"/>
</g>
<g font-size="34.2" text-anchor="end">
<text x="215.7" y="680.7">0</text>
<text x="215.7" y="605.43">5</text>
<text x="215.7" y="530.15">10</text>
<text x="215.7" y="454.88">15</text>
<text x="215.7" y="379.6">20</text>
<text x="215.7" y="304.33">25</text>
<text x="215.7" y="229.05">30</text>
<text x="215.7" y="153.78">35</text>
<text x="215.7" y="78.5">40</text>
</g>
<g font-size="34.2" text-anchor="middle">
<text x="390.24" y="703.2">200</text>
<text x="558.48" y="703.2">400</text>
<text x="726.72" y="703.2">600</text>
<text x="894.96" y="703.2">800</text>
<text x="1063.2" y="703.2">1000</text>
<text x="1231.44" y="703.2">1200</text>
<text x="1399.68" y="703.2">1400</text>
</g>
<text x="1489.9" y="740.5" font-size="34.8" text-anchor="end">Energy (keV)</text>
<text transform="translate(148.3 64.2) rotate(-90)" font-size="34.8" text-anchor="end">Counts/s</text>
</g>
<g id="plot-b">
<g stroke="#000" stroke-width="2.4" stroke-dasharray="2.8 5.55" fill="none">
<path stroke-dasharray="2.8 5.64" d="M228.7 1377.32V766.5"/>
<path stroke-dasharray="2.8 5.64" d="M397 1377.32V766.5"/>
<path stroke-dasharray="2.8 5.64" d="M565.3 1377.32V766.5"/>
<path stroke-dasharray="2.8 5.64" d="M733.6 1377.32V766.5"/>
<path stroke-dasharray="2.8 5.64" d="M901.9 1377.32V766.5"/>
<path stroke-dasharray="2.8 5.64" d="M1070.2 1377.32V766.5"/>
<path stroke-dasharray="2.8 5.64" d="M1238.5 1377.32V766.5"/>
<path stroke-dasharray="2.8 5.64" d="M1406.8 1377.32V766.5"/>
<path stroke-dasharray="2.8 5.636" d="M255.73 1261.5H1499"/>
<path stroke-dasharray="2.8 5.636" d="M255.73 1148.7H1499"/>
<path stroke-dasharray="2.8 5.636" d="M255.73 1035.9H1499"/>
<path stroke-dasharray="2.8 5.636" d="M255.73 923.1H1499"/>
<path stroke-dasharray="2.8 5.636" d="M255.73 810.3H1499"/>
</g>
<g stroke="#000" stroke-width="2" fill="none">
<path d="M223.2 1374.3h38.2"/>
<path d="M223.2 1346.1h19.3"/>
<path d="M223.2 1317.9h19.3"/>
<path d="M223.2 1289.7h19.3"/>
<path d="M223.2 1261.5h38.2"/>
<path d="M223.2 1233.3h19.3"/>
<path d="M223.2 1205.1h19.3"/>
<path d="M223.2 1176.9h19.3"/>
<path d="M223.2 1148.7h38.2"/>
<path d="M223.2 1120.5h19.3"/>
<path d="M223.2 1092.3h19.3"/>
<path d="M223.2 1064.1h19.3"/>
<path d="M223.2 1035.9h38.2"/>
<path d="M223.2 1007.7h19.3"/>
<path d="M223.2 979.5h19.3"/>
<path d="M223.2 951.3h19.3"/>
<path d="M223.2 923.1h38.2"/>
<path d="M223.2 894.9h19.3"/>
<path d="M223.2 866.7h19.3"/>
<path d="M223.2 838.5h19.3"/>
<path d="M223.2 810.3h38.2"/>
<path d="M223.2 782.1h19.3"/>
<path d="M228.7 1374.3v-17.6"/>
<path d="M270.77 1374.3v-8.6"/>
<path d="M312.85 1374.3v-8.6"/>
<path d="M354.93 1374.3v-8.6"/>
<path d="M397 1374.3v-17.6"/>
<path d="M439.07 1374.3v-8.6"/>
<path d="M481.15 1374.3v-8.6"/>
<path d="M523.23 1374.3v-8.6"/>
<path d="M565.3 1374.3v-17.6"/>
<path d="M607.38 1374.3v-8.6"/>
<path d="M649.45 1374.3v-8.6"/>
<path d="M691.52 1374.3v-8.6"/>
<path d="M733.6 1374.3v-17.6"/>
<path d="M775.67 1374.3v-8.6"/>
<path d="M817.75 1374.3v-8.6"/>
<path d="M859.83 1374.3v-8.6"/>
<path d="M901.9 1374.3v-17.6"/>
<path d="M943.97 1374.3v-8.6"/>
<path d="M986.05 1374.3v-8.6"/>
<path d="M1028.12 1374.3v-8.6"/>
<path d="M1070.2 1374.3v-17.6"/>
<path d="M1112.28 1374.3v-8.6"/>
<path d="M1154.35 1374.3v-8.6"/>
<path d="M1196.42 1374.3v-8.6"/>
<path d="M1238.5 1374.3v-17.6"/>
<path d="M1280.58 1374.3v-8.6"/>
<path d="M1322.65 1374.3v-8.6"/>
<path d="M1364.73 1374.3v-8.6"/>
<path d="M1406.8 1374.3v-17.6"/>
<path d="M1448.88 1374.3v-8.6"/>
<path d="M1490.95 1374.3v-8.6"/>
</g>
<rect x="223.2" y="766.5" width="1275.8" height="607.8" fill="none" stroke="#000" stroke-width="2.6"/>
<polyline points="270.02,793.94 311.42,797.1 397,810.98 481.15,837.37 565.3,899.02 649.45,966.53 733.6,1048.98 817.75,1155.58 901.9,1246.27 986.05,1307.41 1070.2,1345.08 1154.35,1361.61 1238.5,1368.32 1322.65,1370.92 1406.8,1372.61 1490.95,1373.17" fill="none" stroke="#000000" stroke-width="4.3" stroke-dasharray="8.6 8.3"/>
<circle cx="270.02" cy="793.94" r="8.1" fill="none" stroke="#000000" stroke-width="2.7"/>
<circle cx="311.42" cy="797.1" r="8.1" fill="none" stroke="#000000" stroke-width="2.7"/>
<circle cx="397" cy="810.98" r="8.1" fill="none" stroke="#000000" stroke-width="2.7"/>
<circle cx="481.15" cy="837.37" r="8.1" fill="none" stroke="#000000" stroke-width="2.7"/>
<circle cx="565.3" cy="899.02" r="8.1" fill="none" stroke="#000000" stroke-width="2.7"/>
<circle cx="649.45" cy="966.53" r="8.1" fill="none" stroke="#000000" stroke-width="2.7"/>
<circle cx="733.6" cy="1048.98" r="8.1" fill="none" stroke="#000000" stroke-width="2.7"/>
<circle cx="817.75" cy="1155.58" r="8.1" fill="none" stroke="#000000" stroke-width="2.7"/>
<circle cx="901.9" cy="1246.27" r="8.1" fill="none" stroke="#000000" stroke-width="2.7"/>
<circle cx="986.05" cy="1307.41" r="8.1" fill="none" stroke="#000000" stroke-width="2.7"/>
<circle cx="1070.2" cy="1345.08" r="8.1" fill="none" stroke="#000000" stroke-width="2.7"/>
<circle cx="1154.35" cy="1361.61" r="8.1" fill="none" stroke="#000000" stroke-width="2.7"/>
<circle cx="1238.5" cy="1368.32" r="8.1" fill="none" stroke="#000000" stroke-width="2.7"/>
<circle cx="1322.65" cy="1370.92" r="8.1" fill="none" stroke="#000000" stroke-width="2.7"/>
<circle cx="1406.8" cy="1372.61" r="8.1" fill="none" stroke="#000000" stroke-width="2.7"/>
<circle cx="1490.95" cy="1373.17" r="8.1" fill="none" stroke="#000000" stroke-width="2.7"/>
<polyline points="270.02,810.3 311.42,810.86 397,824.79 481.15,848.65 565.3,907.59 649.45,973.69 733.6,1055.08 817.75,1160.94 901.9,1252.76 986.05,1315.19 1070.2,1350.39 1154.35,1367.53 1238.5,1372.61 1322.65,1373.74 1406.8,1374.3 1490.95,1374.3" fill="none" stroke="#ff0000" stroke-width="2.4"/>
<circle cx="270.02" cy="810.3" r="8.6" fill="#ff0000"/>
<circle cx="311.42" cy="810.86" r="8.6" fill="#ff0000"/>
<circle cx="397" cy="824.79" r="8.6" fill="#ff0000"/>
<circle cx="481.15" cy="848.65" r="8.6" fill="#ff0000"/>
<circle cx="565.3" cy="907.59" r="8.6" fill="#ff0000"/>
<circle cx="649.45" cy="973.69" r="8.6" fill="#ff0000"/>
<circle cx="733.6" cy="1055.08" r="8.6" fill="#ff0000"/>
<circle cx="817.75" cy="1160.94" r="8.6" fill="#ff0000"/>
<circle cx="901.9" cy="1252.76" r="8.6" fill="#ff0000"/>
<circle cx="986.05" cy="1315.19" r="8.6" fill="#ff0000"/>
<circle cx="1070.2" cy="1350.39" r="8.6" fill="#ff0000"/>
<circle cx="1154.35" cy="1367.53" r="8.6" fill="#ff0000"/>
<circle cx="1238.5" cy="1372.61" r="8.6" fill="#ff0000"/>
<circle cx="1322.65" cy="1373.74" r="8.6" fill="#ff0000"/>
<circle cx="1406.8" cy="1374.3" r="8.6" fill="#ff0000"/>
<circle cx="1490.95" cy="1374.3" r="8.6" fill="#ff0000"/>
<polyline points="270.02,810.3 311.42,811.43 397,828.63 481.15,852.04 565.3,922.54 649.45,999.24 733.6,1077.35 817.75,1181.19 901.9,1265.11 986.05,1320.61 1070.2,1352.59 1154.35,1368.1 1238.5,1373.17 1322.65,1373.74 1406.8,1374.3 1490.95,1374.3" fill="none" stroke="#006400" stroke-width="4.3" stroke-dasharray="56 14"/>
<path d="M261.62 801.9h16.8l-8.4 16.8z" fill="#006400"/>
<path d="M303.02 803.03h16.8l-8.4 16.8z" fill="#006400"/>
<path d="M388.6 820.23h16.8l-8.4 16.8z" fill="#006400"/>
<path d="M472.75 843.64h16.8l-8.4 16.8z" fill="#006400"/>
<path d="M556.9 914.14h16.8l-8.4 16.8z" fill="#006400"/>
<path d="M641.05 990.84h16.8l-8.4 16.8z" fill="#006400"/>
<path d="M725.2 1068.95h16.8l-8.4 16.8z" fill="#006400"/>
<path d="M809.35 1172.79h16.8l-8.4 16.8z" fill="#006400"/>
<path d="M893.5 1256.71h16.8l-8.4 16.8z" fill="#006400"/>
<path d="M977.65 1312.21h16.8l-8.4 16.8z" fill="#006400"/>
<path d="M1061.8 1344.19h16.8l-8.4 16.8z" fill="#006400"/>
<path d="M1145.95 1359.7h16.8l-8.4 16.8z" fill="#006400"/>
<path d="M1230.1 1364.77h16.8l-8.4 16.8z" fill="#006400"/>
<path d="M1314.25 1365.34h16.8l-8.4 16.8z" fill="#006400"/>
<path d="M1398.4 1365.9h16.8l-8.4 16.8z" fill="#006400"/>
<path d="M1482.55 1365.9h16.8l-8.4 16.8z" fill="#006400"/>
<polyline points="270.02,810.3 311.42,811.99 397,837.6 481.15,869.52 565.3,949.21 649.45,1033.36 733.6,1116.66 817.75,1215.36 901.9,1287.44 986.05,1335.5 1070.2,1359.07 1154.35,1370.92 1238.5,1373.74 1322.65,1374.3 1406.8,1374.3 1490.95,1374.3" fill="none" stroke="#000072" stroke-width="2.4"/>
<path d="M261.62 818.7h16.8l-8.4 -16.8z" fill="#000072"/>
<path d="M303.02 820.39h16.8l-8.4 -16.8z" fill="#000072"/>
<path d="M388.6 846h16.8l-8.4 -16.8z" fill="#000072"/>
<path d="M472.75 877.92h16.8l-8.4 -16.8z" fill="#000072"/>
<path d="M556.9 957.61h16.8l-8.4 -16.8z" fill="#000072"/>
<path d="M641.05 1041.76h16.8l-8.4 -16.8z" fill="#000072"/>
<path d="M725.2 1125.06h16.8l-8.4 -16.8z" fill="#000072"/>
<path d="M809.35 1223.76h16.8l-8.4 -16.8z" fill="#000072"/>
<path d="M893.5 1295.84h16.8l-8.4 -16.8z" fill="#000072"/>
<path d="M977.65 1343.9h16.8l-8.4 -16.8z" fill="#000072"/>
<path d="M1061.8 1367.47h16.8l-8.4 -16.8z" fill="#000072"/>
<path d="M1145.95 1379.32h16.8l-8.4 -16.8z" fill="#000072"/>
<path d="M1230.1 1382.14h16.8l-8.4 -16.8z" fill="#000072"/>
<path d="M1314.25 1382.7h16.8l-8.4 -16.8z" fill="#000072"/>
<path d="M1398.4 1382.7h16.8l-8.4 -16.8z" fill="#000072"/>
<path d="M1482.55 1382.7h16.8l-8.4 -16.8z" fill="#000072"/>
<polyline points="270.02,811.65 311.42,820.23 397,881.93 481.15,949.89 565.3,1058.46 649.45,1160.94 733.6,1241.76 817.75,1302.11 901.9,1340.8 986.05,1360.43 1070.2,1370.07 1154.35,1373.74 1238.5,1374.3 1322.65,1374.3 1406.8,1374.3 1490.95,1374.3" fill="none" stroke="#6600cc" stroke-width="4.3" stroke-dasharray="14 8.4 2.8 8.4 2.8 8.4"/>
<rect x="261.62" y="803.25" width="16.8" height="16.8" fill="#6600cc"/>
<rect x="303.02" y="811.83" width="16.8" height="16.8" fill="#6600cc"/>
<rect x="388.6" y="873.53" width="16.8" height="16.8" fill="#6600cc"/>
<rect x="472.75" y="941.49" width="16.8" height="16.8" fill="#6600cc"/>
<rect x="556.9" y="1050.06" width="16.8" height="16.8" fill="#6600cc"/>
<rect x="641.05" y="1152.54" width="16.8" height="16.8" fill="#6600cc"/>
<rect x="725.2" y="1233.36" width="16.8" height="16.8" fill="#6600cc"/>
<rect x="809.35" y="1293.71" width="16.8" height="16.8" fill="#6600cc"/>
<rect x="893.5" y="1332.4" width="16.8" height="16.8" fill="#6600cc"/>
<rect x="977.65" y="1352.03" width="16.8" height="16.8" fill="#6600cc"/>
<rect x="1061.8" y="1361.67" width="16.8" height="16.8" fill="#6600cc"/>
<rect x="1145.95" y="1365.34" width="16.8" height="16.8" fill="#6600cc"/>
<rect x="1230.1" y="1365.9" width="16.8" height="16.8" fill="#6600cc"/>
<rect x="1314.25" y="1365.9" width="16.8" height="16.8" fill="#6600cc"/>
<rect x="1398.4" y="1365.9" width="16.8" height="16.8" fill="#6600cc"/>
<rect x="1482.55" y="1365.9" width="16.8" height="16.8" fill="#6600cc"/>
<g font-size="35.4" text-anchor="end">
<text x="215.2" y="1386.9">0.0</text>
<text x="215.2" y="1274.1">0.2</text>
<text x="215.2" y="1161.3">0.4</text>
<text x="215.2" y="1048.5">0.6</text>
<text x="215.2" y="935.7">0.8</text>
<text x="215.2" y="822.9">1.0</text>
</g>
<g font-size="35.4" text-anchor="middle">
<text x="228.4" y="1408.4">0</text>
<text x="396.7" y="1408.4">200</text>
<text x="565" y="1408.4">400</text>
<text x="733.3" y="1408.4">600</text>
<text x="901.6" y="1408.4">800</text>
<text x="1069.9" y="1408.4">1000</text>
<text x="1238.2" y="1408.4">1200</text>
<text x="1406.5" y="1408.4">1400</text>
</g>
<text x="1498.8" y="1444.3" font-size="35.2" text-anchor="end">Energy threshold (keV)</text>
<text transform="translate(142.4 764) rotate(-90)" font-size="35.16" text-anchor="end">Total count rate / Radioactivity rattio</text>
</g>
<g id="legend-a">
<rect x="311.1" y="3.1" width="1177.2" height="190" fill="#fff" stroke="#000" stroke-width="2.1"/>
<path d="M355 21.9H561" stroke="#000000" stroke-width="6.2" fill="none" stroke-dasharray="8.4 8.4"/>
<text x="604.6" y="29.8" font-size="30.35" style="stroke-width:0.5px" textLength="502.1" lengthAdjust="spacing">Measurement - 8x8 array [11.52 cm2]</text>
<path d="M355 60H561" stroke="#ff0000" stroke-width="6.2" fill="none"/>
<text x="604.6" y="67.9" font-size="30.35" style="stroke-width:0.5px" textLength="459.1" lengthAdjust="spacing">Simulation - 8x8 array [11.52 cm2]</text>
<path d="M355 97.9H561" stroke="#006400" stroke-width="6.2" fill="none" stroke-dasharray="56 14"/>
<text x="604.6" y="105.8" font-size="30.35" style="stroke-width:0.5px" textLength="503.3" lengthAdjust="spacing">Simulation- Single crystal [11.52 cm2]</text>
<path d="M355 136H561" stroke="#000099" stroke-width="6.2" fill="none"/>
<text x="604.6" y="143.9" font-size="30.35" style="stroke-width:0.5px" textLength="734" lengthAdjust="spacing">Simulation- Single crystal [5.76 cm2] (reduced 50% Lu)</text>
<path d="M355 173.9H561" stroke="#6600cc" stroke-width="6.2" fill="none" stroke-dasharray="14 8.4 2.8 8.4 2.8 8.4"/>
<text x="604.6" y="181.8" font-size="30.35" style="stroke-width:0.5px" textLength="668.4" lengthAdjust="spacing">Simulation- Single crystal [0.18 cm2] (scaled 10.0)</text>
</g>
<g id="legend-b">
<rect x="726.9" y="764.2" width="773.4" height="265" fill="#fff" stroke="#000" stroke-width="2.1"/>
<path d="M755.6 790.4H891.5" stroke="#000000" stroke-width="4.3" fill="none" stroke-dasharray="8.6 8.3"/>
<circle cx="823.4" cy="790.4" r="8.1" fill="none" stroke="#000000" stroke-width="2.7"/>
<text x="919.4" y="795.9" font-size="22.5" style="stroke-width:0.2px" textLength="374.5" lengthAdjust="spacing">Measurement - 8x8 array [11.52 cm2]</text>
<path d="M755.6 843.6H891.5" stroke="#ff0000" stroke-width="2.4" fill="none"/>
<circle cx="823.4" cy="843.6" r="8.6" fill="#ff0000"/>
<text x="919.4" y="849.1" font-size="22.5" style="stroke-width:0.2px" textLength="342.1" lengthAdjust="spacing">Simulation - 8x8 array [11.52 cm2]</text>
<path d="M755.6 896.5H891.5" stroke="#006400" stroke-width="4.3" fill="none" stroke-dasharray="56 14"/>
<path d="M815 888.1h16.8l-8.4 16.8z" fill="#006400"/>
<text x="919.4" y="902" font-size="22.5" style="stroke-width:0.2px" textLength="375.4" lengthAdjust="spacing">Simulation- Single crystal [11.52 cm2]</text>
<path d="M755.6 949.8H891.5" stroke="#000072" stroke-width="2.4" fill="none"/>
<path d="M815 958.2h16.8l-8.4 -16.8z" fill="#000072"/>
<text x="919.4" y="955.3" font-size="22.5" style="stroke-width:0.2px" textLength="546.8" lengthAdjust="spacing">Simulation- Single crystal [5.76 cm2] (reduced 50% Lu)</text>
<path d="M755.6 1002.9H891.5" stroke="#6600cc" stroke-width="4.3" fill="none" stroke-dasharray="14 8.4 2.8 8.4 2.8 8.4"/>
<rect x="815" y="994.5" width="16.8" height="16.8" fill="#6600cc"/>
<text x="919.4" y="1008.4" font-size="22.5" style="stroke-width:0.2px" textLength="363.9" lengthAdjust="spacing">Simulation- Single crystal [0.18 cm2]</text>
</g>
<path d="M305.4 71.6V1375" stroke="#ff0000" stroke-width="12" stroke-dasharray="47.7 36.02" fill="none"/>
<text class="serif" x="323.8" y="1172.8" font-size="56.3" style="fill:#ff0000;stroke:none">100 keV</text>
<text class="serif" x="323.8" y="1235.8" font-size="56.3" style="fill:#ff0000;stroke:none">threshold</text>
<text class="serif" x="3" y="38.9" font-size="57" style="stroke:none">a<tspan dx="-1.6">)</tspan></text>
<text class="serif" x="-0.8" y="750.2" font-size="57" style="stroke:none">b<tspan dx="-0.6">)</tspan></text>
</svg>
</body></html>
